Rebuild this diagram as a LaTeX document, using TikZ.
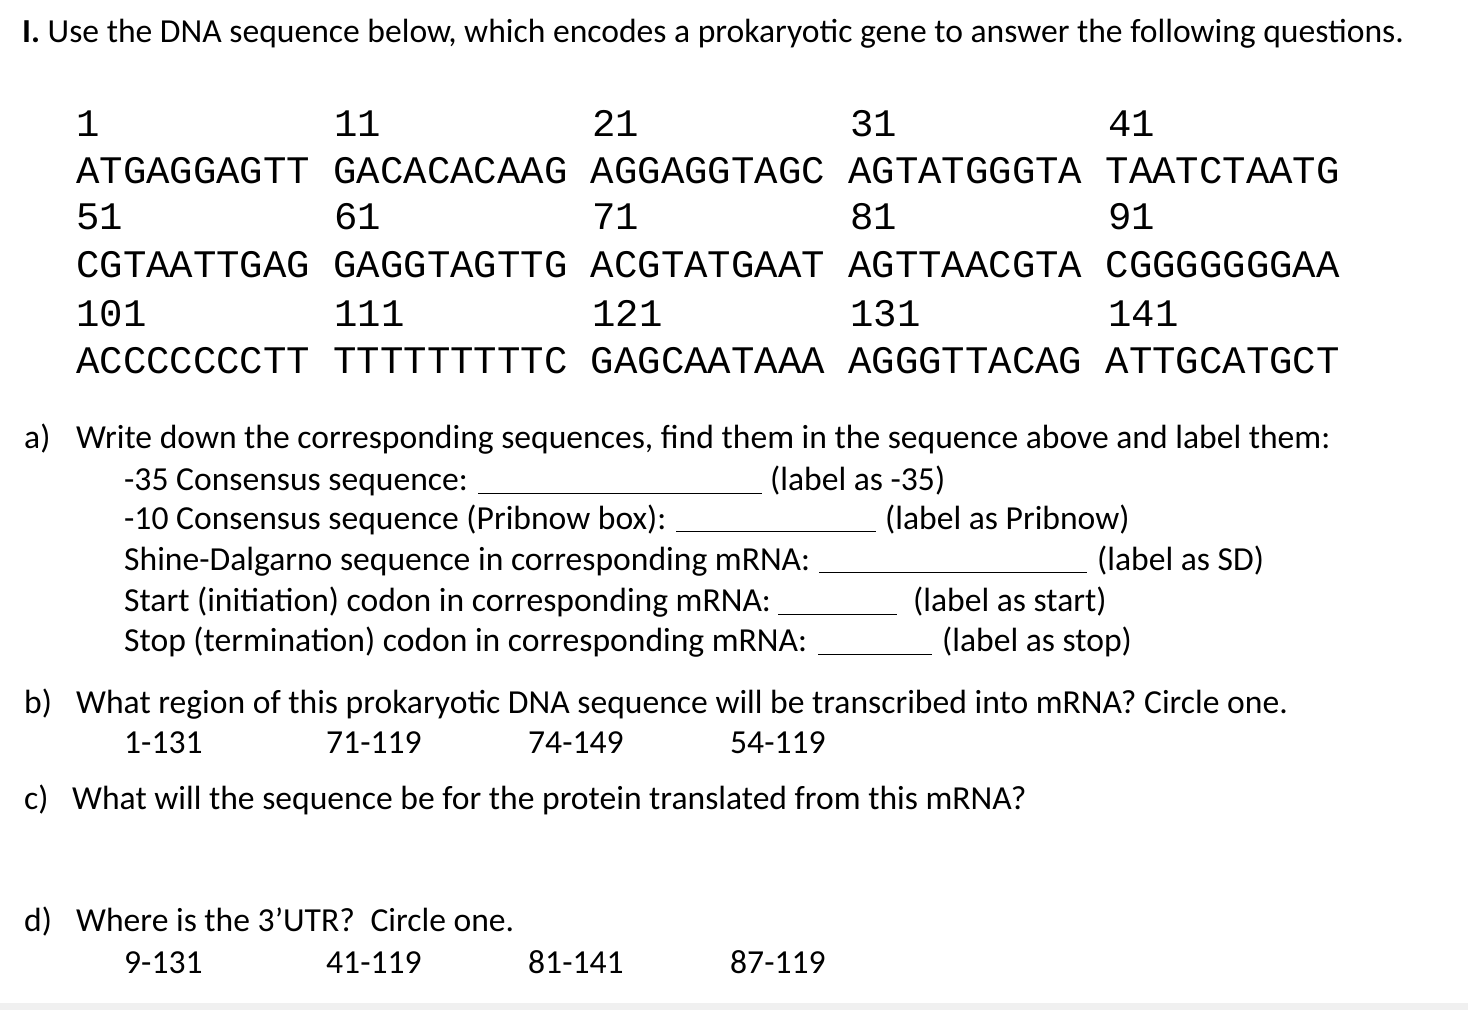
\documentclass[tikz,border=0pt]{standalone}
\usepackage{fontspec}
\setmainfont{Carlito}
\newfontfamily\seqfont{Liberation Mono}
\begin{document}
\begin{tikzpicture}[x=1pt,y=-1pt,
 txt/.style={anchor=base west,inner sep=0pt,font=\fontsize{33.6}{36}\selectfont},
 sq/.style={anchor=base west,inner sep=0pt,font=\seqfont\fontsize{39}{40}\selectfont},
 blank/.style={line width=1pt}]
\useasboundingbox (0,0) rectangle (1468,1010);
\fill[black!6] (0,1003) rectangle (1468,1010);
\node[txt] (h) at (22,42) {\textbf{I.} Use the DNA sequence below, which encodes a prokaryotic gene to answer the following questions.};
\foreach \i/\n in {0/1,1/11,2/21,3/31,4/41}{\node[sq] (na\i) at (76+258*\i,136) {\n};}
\node[sq] (s1) at (76,183) {ATGAGGAGTT GACACACAAG AGGAGGTAGC AGTATGGGTA TAATCTAATG};
\foreach \i/\n in {0/51,1/61,2/71,3/81,4/91}{\node[sq] (nb\i) at (76+258*\i,229) {\n};}
\node[sq] (s2) at (76,277) {CGTAATTGAG GAGGTAGTTG ACGTATGAAT AGTTAACGTA CGGGGGGGAA};
\foreach \i/\n in {0/101,1/111,2/121,3/131,4/141}{\node[sq] (nc\i) at (76+258*\i,326) {\n};}
\node[sq] (s3) at (76,373) {ACCCCCCCTT TTTTTTTTTC GAGCAATAAA AGGGTTACAG ATTGCATGCT};
\node[txt] (am) at (24,448) {a)};
\node[txt] (a) at (76,448) {Write down the corresponding sequences, find them in the sequence above and label them:};
\node[txt] (a1) at (124,490) {-35 Consensus sequence:};
\node[txt] (a2) at (124,529) {-10 Consensus sequence (Pribnow box):};
\node[txt] (a3) at (124,570) {Shine-Dalgarno sequence in corresponding mRNA:};
\node[txt] (a4) at (124,611) {Start (initiation) codon in corresponding mRNA:};
\node[txt] (a5) at (124,651) {Stop (termination) codon in corresponding mRNA:};
\draw[blank] (478,493) -- (762,493);
\draw[blank] (676,531) -- (876,531);
\draw[blank] (819,572) -- (1087,572);
\draw[blank] (778,614) -- (897,614);
\draw[blank] (818,654) -- (932,654);
\node[txt] (l1) at (770,490) {(label as -35)};
\node[txt] (l2) at (885,529) {(label as Pribnow)};
\node[txt] (l3) at (1097,570) {(label as SD)};
\node[txt] (l4) at (913,611) {(label as start)};
\node[txt] (l5) at (942,651) {(label as stop)};
\node[txt] (bm) at (24,713) {b)};
\node[txt] (b) at (76,713) {What region of this prokaryotic DNA sequence will be transcribed into mRNA? Circle one.};
\node[txt] (b1) at (124,753) {1-131};
\node[txt] (b2) at (326,753) {71-119};
\node[txt] (b3) at (528,753) {74-149};
\node[txt] (b4) at (730,753) {54-119};
\node[txt] (cm) at (24,809) {c)};
\node[txt] (c) at (72,809) {What will the sequence be for the protein translated from this mRNA?};
\node[txt] (dm) at (24,931) {d)};
\node[txt] (d) at (76,931) {Where is the 3’UTR?\hspace{8pt} Circle one.};
\node[txt] (d1) at (124,973) {9-131};
\node[txt] (d2) at (326,973) {41-119};
\node[txt] (d3) at (528,973) {81-141};
\node[txt] (d4) at (730,973) {87-119};
\end{tikzpicture}
\end{document}
